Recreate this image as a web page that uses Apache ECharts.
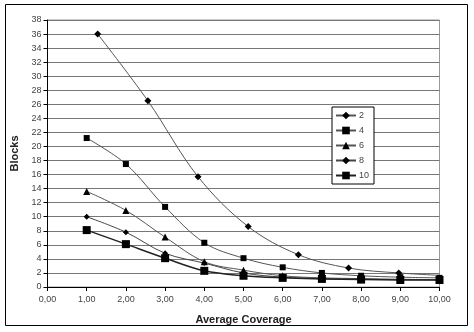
<!DOCTYPE html>
<html><head><meta charset="utf-8">
<script src="https://cdn.jsdelivr.net/npm/echarts@6/dist/echarts.min.js"></script>
<style>html,body{margin:0;padding:0;background:#fff}#c{width:474px;height:332px}</style>
</head><body><div id="c"></div>
<script>
var seriesNames = ['2', '4', '6', '8', '10'];
var x2 = [1.28, 2.56, 3.84, 5.12, 6.40, 7.68, 8.96, 10.24];
var y2 = [36.0, 26.5, 15.7, 8.6, 4.6, 2.7, 2.0, 1.6];
var xInt = [1, 2, 3, 4, 5, 6, 7, 8, 9, 10];
var y4 = [21.2, 17.5, 11.4, 6.3, 4.1, 2.8, 2.0, 1.6, 1.4, 1.3];
var y6 = [13.6, 10.9, 7.1, 3.6, 2.4, 1.6, 1.3, 1.2, 1.1, 1.05];
var y8 = [10.0, 7.8, 4.8, 3.4, 2.0, 1.4, 1.2, 1.1, 1.05, 1.0];
var y10 = [8.1, 6.1, 4.1, 2.3, 1.6, 1.3, 1.15, 1.05, 1.0, 1.0];

function pairs(xs, ys) { return xs.map(function (x, i) { return [x, ys[i]]; }); }

var chart = echarts.init(document.getElementById('c'), null, {renderer: 'canvas'});
var font = 'Liberation Sans, Arial, sans-serif';
function mk(name, data, symbol, size, lw, lc) {
  return {
    name: name, type: 'line', data: data, smooth: 0.35, clip: true,
    symbol: symbol, symbolSize: size, showSymbol: true,
    lineStyle: {color: lc, width: lw},
    itemStyle: {color: '#000', borderColor: '#000', borderWidth: 0},
    emphasis: {disabled: true}, animation: false
  };
}
chart.setOption({
  animation: false,
  backgroundColor: '#fff',
  graphic: [{type: 'rect', shape: {x: 5.5, y: 4.5, width: 462, height: 321},
    style: {fill: 'none', stroke: '#000', lineWidth: 1}, z: 100}],
  grid: {left: 47.5, right: 34.5, top: 20, bottom: 45, show: true, borderColor: '#999', borderWidth: 1, backgroundColor: 'transparent'},
  legend: {
    data: seriesNames, orient: 'vertical', left: 332, top: 107,
    backgroundColor: '#fff', borderColor: '#000', borderWidth: 1,
    padding: [4, 5, 4, 3], itemGap: 6, itemWidth: 20, itemHeight: 9.5,
    textStyle: {fontFamily: font, fontSize: 9, color: '#444', padding: [0, 0, 0, -2]}
  },
  xAxis: {
    type: 'value', min: 0, max: 10, interval: 1,
    name: 'Average Coverage', nameLocation: 'middle', nameGap: 27,
    nameTextStyle: {fontFamily: font, fontSize: 11, fontWeight: 'bold', color: '#222'},
    axisLine: {show: true, lineStyle: {color: '#000', width: 1}},
    axisTick: {show: true, length: 4, lineStyle: {color: '#000'}},
    axisLabel: {fontFamily: font, fontSize: 9, color: '#444', margin: 8,
      formatter: function (v) { return v.toFixed(2).replace('.', ','); }},
    splitLine: {show: false}
  },
  yAxis: {
    type: 'value', min: 0, max: 38, interval: 2,
    name: 'Blocks', nameLocation: 'middle', nameGap: 27, nameRotate: 90,
    nameTextStyle: {fontFamily: font, fontSize: 11, fontWeight: 'bold', color: '#222'},
    axisLine: {show: true, lineStyle: {color: '#000', width: 1}},
    axisTick: {show: true, length: 4, lineStyle: {color: '#000'}},
    axisLabel: {fontFamily: font, fontSize: 9, color: '#444', margin: 6},
    splitLine: {show: true, lineStyle: {color: '#777', width: 1}}
  },
  series: [
    mk('2', pairs(x2, y2), 'diamond', 7, 1, '#555'),
    mk('4', pairs(xInt, y4), 'rect', 6, 1, '#555'),
    mk('6', pairs(xInt, y6), 'triangle', 7, 1, '#555'),
    mk('8', pairs(xInt, y8), 'diamond', 6, 1, '#444'),
    mk('10', pairs(xInt, y10), 'rect', 8, 1.5, '#222')
  ]
});
</script></body></html>
